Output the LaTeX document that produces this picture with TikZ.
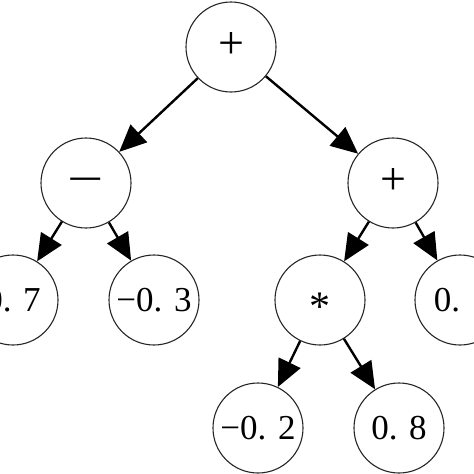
\documentclass[tikz,border=0pt]{standalone}
\usepackage{fontspec}
\setmainfont{Liberation Serif}
\usetikzlibrary{arrows.meta}
\newcommand{\opsym}[3]{{\fontsize{#1}{#1}\selectfont\smash{\raisebox{#2}{#3}}}}
\begin{document}
\begin{tikzpicture}[x=1pt,y=-1pt,
  opnode/.style={draw=black!85,line width=1.1pt,circle,minimum size=90pt,inner sep=0pt,font=\fontsize{35}{35}\selectfont},
  edge/.style={line width=2.4pt,-{Triangle[length=27pt,width=24pt]}}]
\useasboundingbox (0,0) rectangle (474,474);
\clip (0,0) rectangle (474,474);
\node[opnode] (root) at (231,47) {\opsym{46pt}{-0.26em}{+}};
\node[opnode] (minus) at (86,183) {\opsym{46pt}{-0.25em}{\scalebox{1.4}[1]{−}}};
\node[opnode] (plus) at (393,183) {\opsym{46pt}{-0.26em}{+}};
\node[opnode] (a) at (13,300) {0. 7};
\node[opnode] (b) at (154,300) {−0. 3};
\node[opnode] (mul) at (320,300) {\opsym{42pt}{-0.48em}{*}};
\node[opnode] (c) at (460,300) {0.\ \phantom{5}};
\node[opnode] (d) at (258,428) {−0. 2};
\node[opnode] (e) at (399,428) {0. 8};
\draw[edge] (root) -- (minus);
\draw[edge] (root) -- (plus);
\draw[edge] (minus) -- (a);
\draw[edge] (minus) -- (b);
\draw[edge] (plus) -- (mul);
\draw[edge] (plus) -- (c);
\draw[edge] (mul) -- (d);
\draw[edge] (mul) -- (e);
\end{tikzpicture}
\end{document}
